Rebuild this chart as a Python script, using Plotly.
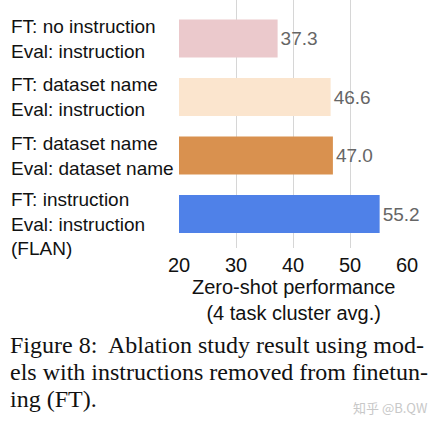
import plotly.graph_objects as go

categories = ["no_instr", "dataset_name_instr", "dataset_name_name", "flan"]
label_lines = [
    "FT: no instruction<br>Eval: instruction",
    "FT: dataset name<br>Eval: instruction",
    "FT: dataset name<br>Eval: dataset name",
    "FT: instruction<br>Eval: instruction<br>(FLAN)",
]
values = [37.3, 46.6, 47.0, 55.2]
value_text = ["37.3", "46.6", "47.0", "55.2"]
colors = ["#EBC9CC", "#FBE5CE", "#D9914F", "#4F81E8"]
x_ticks = [20, 30, 40, 50, 60]
caption_lines = [
    "Figure 8:  Ablation study result using mod-",
    "els with instructions removed from finetun-",
    "ing (FT).",
]

W, H = 442, 428
ml, mr, mt, mb = 179, 35, 0, 180
pw = W - ml - mr
ph = H - mt - mb

fig = go.Figure()
fig.add_trace(go.Bar(
    y=list(range(len(categories))),
    x=[v - 20 for v in values],
    base=20,
    orientation="h",
    marker=dict(color=colors, line=dict(width=0)),
    width=0.65,
    text=value_text,
    textposition="outside",
    cliponaxis=False,
    textfont=dict(family="Liberation Sans", size=19, color="#666666"),
    hoverinfo="skip",
))

annotations = []
for i, lab in enumerate(label_lines):
    annotations.append(dict(
        x=(9 - ml) / pw, xref="paper", y=i, yref="y",
        text=lab, showarrow=False, xanchor="left", align="left",
        yanchor="middle" if i < 3 else "top",
        yshift=0 if i < 3 else 27,
        font=dict(family="Liberation Sans", size=19, color="#111111"),
    ))

annotations.append(dict(
    x=(293 - ml) / pw, xref="paper", y=1 - (274 - mt) / ph, yref="paper",
    text="Zero-shot performance<br>(4 task cluster avg.)",
    showarrow=False, xanchor="center", yanchor="top", align="center",
    font=dict(family="Liberation Sans", size=20, color="#111111"),
))

cap_y = [345, 372, 399]
for line, yy in zip(caption_lines, cap_y):
    annotations.append(dict(
        x=(8 - ml) / pw, xref="paper", y=1 - (yy - mt) / ph, yref="paper",
        text=line, showarrow=False, xanchor="left", yanchor="middle",
        font=dict(family="Liberation Serif", size=24, color="#111111"),
    ))
annotations.append(dict(
    x=(430 - ml) / pw, xref="paper", y=1 - (407 - mt) / ph, yref="paper",
    text="知乎 @B.QW", showarrow=False, xanchor="right", yanchor="middle",
    font=dict(family="Noto Sans CJK SC", size=13, color="#C8C8C8"),
))

fig.update_layout(
    width=W, height=H,
    margin=dict(l=ml, r=mr, t=mt, b=mb),
    paper_bgcolor="white", plot_bgcolor="white",
    showlegend=False,
    annotations=annotations,
    xaxis=dict(
        range=[20, 60], tickvals=x_ticks, ticktext=[str(t) for t in x_ticks],
        showgrid=True, gridcolor="#D6D6D6", gridwidth=1,
        zeroline=False, showline=False, ticks="",
        ticklabelstandoff=3,
        tickfont=dict(family="Liberation Sans", size=20, color="#111111"),
    ),
    yaxis=dict(
        range=[3.58, -0.66], showticklabels=False, showgrid=False,
        zeroline=False, showline=False, ticks="",
    ),
)

fig.write_html("out.html", config={"displayModeBar": False},
               post_script="document.body.style.margin='0';")
